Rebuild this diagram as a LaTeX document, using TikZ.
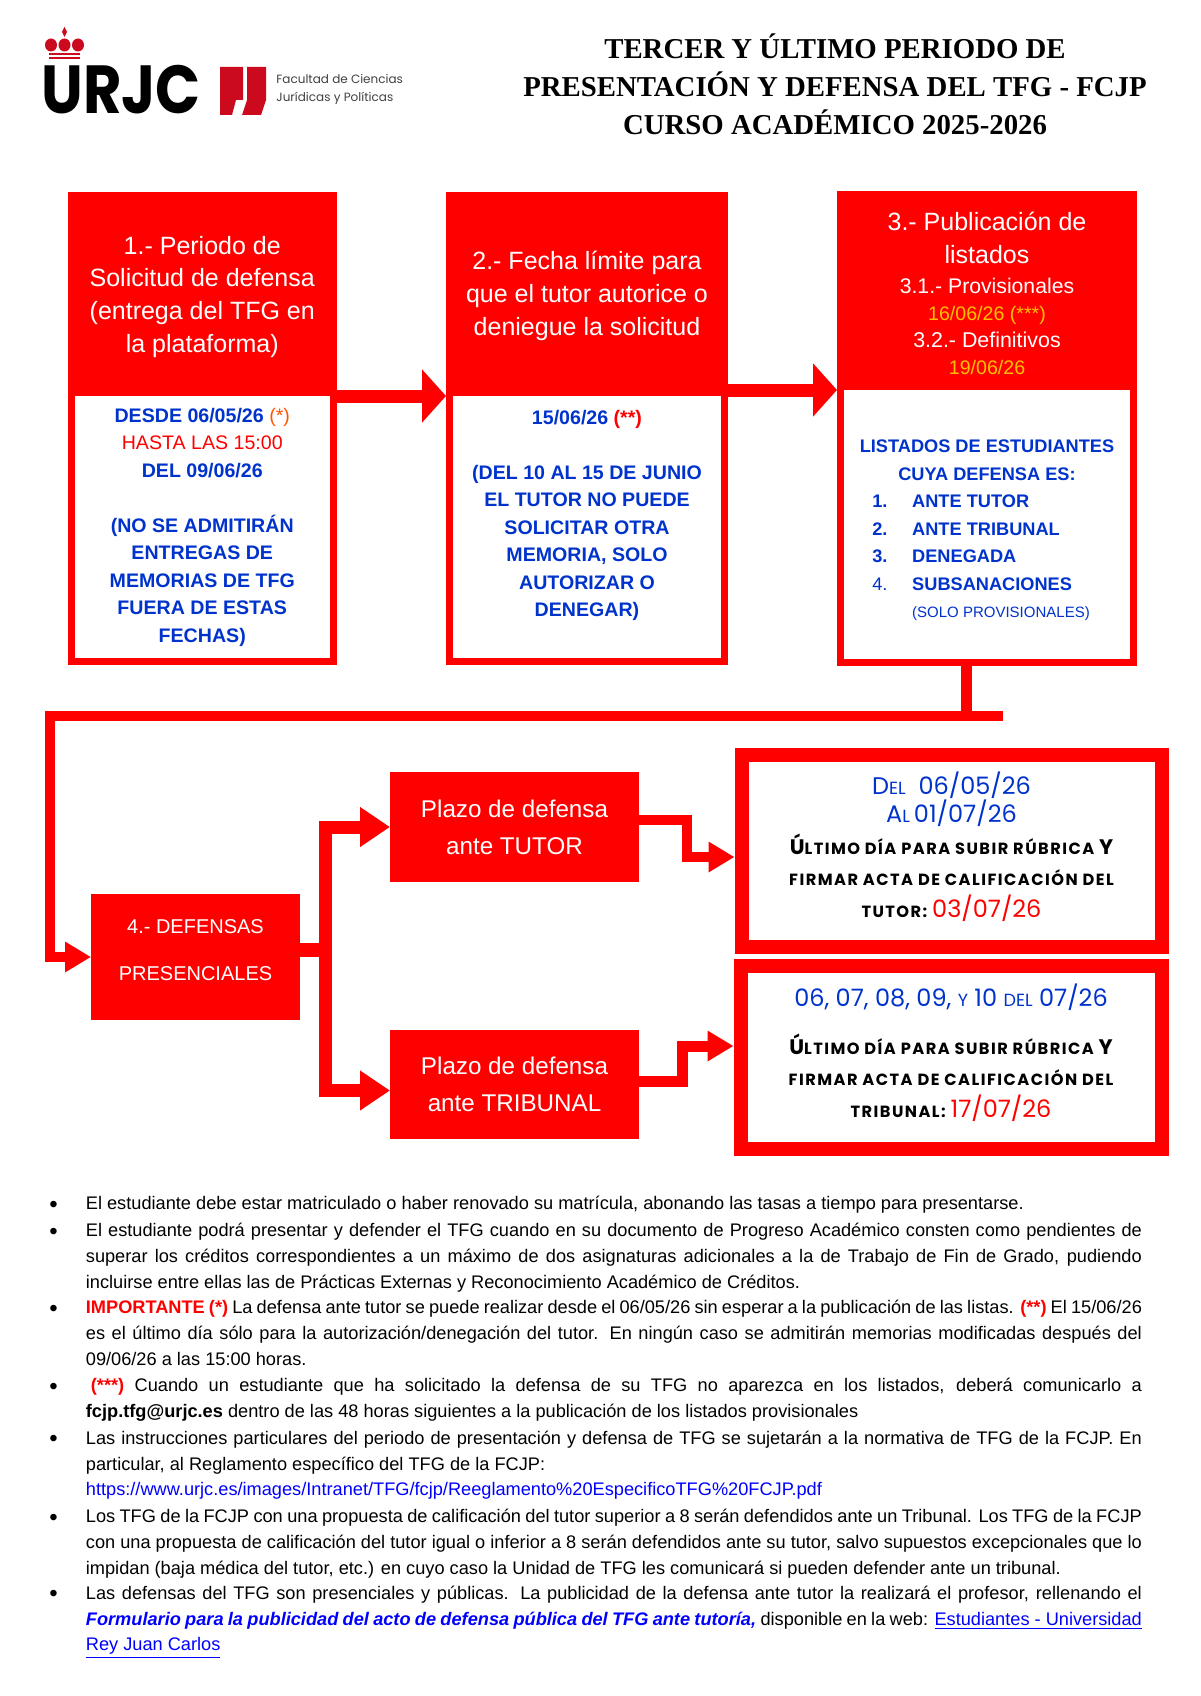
\documentclass[tikz,border=0pt]{standalone}
\usepackage{fontspec}
\setmainfont{Liberation Sans}
\newfontfamily\titlefont{Liberation Serif}
\newfontfamily\capsfont[LetterSpace=9]{Poppins}
\newfontfamily\datefont{Poppins}
\usetikzlibrary{positioning, arrows.meta}
\definecolor{plazored}{HTML}{FF0000}
\definecolor{listblue}{HTML}{0033CC}
\definecolor{dategold}{HTML}{FFC000}
\definecolor{logored}{HTML}{CC0A1E}
\definecolor{linkblue}{HTML}{0000FF}
\newcommand{\notebullet}{\leavevmode\llap{\raisebox{-1.2pt}{\fontsize{12}{12}\selectfont\textbullet}\hspace{14pt}}}
\newcommand{\capinit}[1]{{\fontsize{10.5}{15}\selectfont #1}}
\newcommand{\datesize}[1]{{\datefont\fontsize{12}{15}\mdseries\selectfont #1}}
\newcommand{\datesmall}[1]{{\datefont\fontsize{8.8}{15}\mdseries\selectfont #1}}
\newcommand{\toppad}[1]{\rule{0pt}{#1}}
\tikzset{
	stephead/.style = {rectangle, fill=plazored, text=white, align=center, anchor=north west, inner sep=0pt, outer sep=0pt,
						font=\fontsize{12.5}{16.4}\selectfont},
	stepbody/.style = {rectangle, draw=plazored, line width=3.5pt, fill=white, align=center, anchor=north west,
						inner sep=0pt, text=listblue, font=\fontsize{9.8}{13.75}\selectfont\bfseries},
	plazo/.style = {rectangle, fill=plazored, text=white, align=center, anchor=north west, inner sep=0pt, outer sep=0pt,
						font=\fontsize{12.1}{18.5}\selectfont},
	finalbox/.style = {rectangle, draw=plazored, line width=7pt, fill=white, align=center, inner sep=0pt,
						font=\capsfont\fontsize{8.1}{15.8}\selectfont\bfseries},
	note/.style = {anchor=north west, inner sep=0pt, text width=528pt, align=justify,
						font=\fontsize{9.1}{12.85}\selectfont},
	bigflow/.style = {draw=plazored, line width=6.5pt, -{Triangle[length=12pt,width=26pt]}},
	midflow/.style = {draw=plazored, line width=6.5pt, -{Triangle[length=15pt,width=19pt]}},
	smallflow/.style = {draw=plazored, line width=5pt, -{Triangle[length=13pt,width=14.5pt]}},
	plainflow/.style = {draw=plazored, line width=5pt}
}
\begin{document}
\begin{tikzpicture}[x=0.5pt,y=-0.5pt]
	\useasboundingbox (0,0) rectangle (1200,1696);
	% logo
	\fill [logored] (64.5,27) -- (67,32) -- (64.5,37) -- (62,32) -- cycle;
	\foreach \cx in {51,64.5,78}
		\fill [logored] (\cx,45) ellipse (6 and 6.5);
	\fill [logored] (49,53) rectangle (80,55);
	\fill [logored] (49,57) rectangle (80,59);
	\fill [logored] (220,67) -- (243,67) -- (243,100) -- (236,100) -- (232,115) -- (220,115) -- cycle;
	\fill [logored] (247,67) -- (266,67) -- (266,100) -- (261,115) -- (242,115) -- (247,100) -- cycle;
	\node (urjc) [anchor=west, inner sep=0pt, xscale=.87, transform shape, font=\datefont\fontsize{34}{34}\selectfont\bfseries] at (41,90) {URJC};
	\node (facultad) [anchor=west, inner sep=0pt, align=left, text=black!75,
		font=\datefont\fontsize{6}{9}\selectfont] at (276,89) {Facultad de Ciencias\\Jurídicas y Políticas};
	% title
	\node (titulo) [align=center, inner sep=0pt, font=\titlefont\fontsize{14.4}{18.9}\selectfont\bfseries] at (835,84)
		{TERCER Y ÚLTIMO PERIODO DE\\PRESENTACIÓN Y DEFENSA DEL TFG - FCJP\\CURSO ACADÉMICO 2025-2026};
	% steps
	\node (solbody) [stepbody, minimum width=130.75pt, minimum height=134.5pt] at (68,389)
		{DESDE 06/05/26 {\mdseries\color{orange!70!red}(*)}\\{\mdseries\color{plazored}HASTA LAS 15:00}\\DEL 09/06/26\\ \\(NO SE ADMITIRÁN\\ENTREGAS DE\\MEMORIAS DE TFG\\FUERA DE ESTAS\\FECHAS)};
	\node (sol) [stephead, minimum width=134.25pt, minimum height=102pt] at (68,192)
		{\toppad{11.8pt}1.- Periodo de\\Solicitud de defensa\\(entrega del TFG en\\la plataforma)};
	\node (limbody) [stepbody, minimum width=137.5pt, minimum height=134.5pt] at (446,389)
		{15/06/26 {\color{plazored}(**)}\\ \\(DEL 10 AL 15 DE JUNIO\\EL TUTOR NO PUEDE\\SOLICITAR OTRA\\MEMORIA, SOLO\\AUTORIZAR O\\DENEGAR)\\ };
	\node (lim) [stephead, minimum width=141pt, minimum height=102pt] at (446,192)
		{\toppad{11.3pt}2.- Fecha límite para\\que el tutor autorice o\\deniegue la solicitud};
	\node (pubbody) [stepbody, minimum width=146.5pt, minimum height=138pt, font=\fontsize{9.1}{13.75}\selectfont\bfseries] at (837,383)
		{\toppad{15pt}LISTADOS DE ESTUDIANTES\\CUYA DEFENSA ES:\\[3pt]
		\begin{tabular}{@{}c@{\hspace{12.4pt}}l@{\hspace{6pt}}}
			1. & ANTE TUTOR\\
			2. & ANTE TRIBUNAL\\
			3. & DENEGADA\\
			{\mdseries 4.} & SUBSANACIONES\\
			 & {\mdseries\fontsize{7.5}{13.75}\selectfont (SOLO PROVISIONALES)}
		\end{tabular}};
	\node (pub) [stephead, minimum width=150pt, minimum height=99.5pt] at (837,191)
		{\toppad{12.4pt}3.- Publicación de\\listados\\[-1.7pt]{\fontsize{10.6}{13.5}\selectfont 3.1.- Provisionales}\\[-2.8pt]{\fontsize{9.8}{13.5}\selectfont\color{dategold}16/06/26 (***)}\\[-2.8pt]{\fontsize{10.7}{13.5}\selectfont 3.2.- Definitivos}\\[-2.8pt]{\fontsize{9.8}{13.5}\selectfont\color{dategold}19/06/26}};
	\draw [bigflow] (sol.south east) -- (lim.south west);
	\draw [bigflow] (lim.east |- pub.south) -- (pub.south west);
	% defence
	\node (def) [plazo, minimum width=104.5pt, minimum height=63pt, text depth=7pt, font=\fontsize{10}{23.3}\selectfont] at (91,894)
		{4.- DEFENSAS\\PRESENCIALES};
	\node (tutor) [plazo, minimum width=124.5pt, minimum height=55pt] at (390,772)
		{Plazo de defensa\\ante TUTOR};
	\node (trib) [plazo, minimum width=124.5pt, minimum height=54.5pt] at (390,1030)
		{Plazo de defensa\\ante TRIBUNAL};
	\node (tutorfin) [finalbox, minimum width=210pt, minimum height=96pt, text depth=6pt] at (951.5,850.5)
		{{\color{listblue}\datesize{D}\datesmall{EL}\datesize{\ \ 06/05/26}}\\[-1.5pt]
		{\color{listblue}\datesize{A}\datesmall{L}\datesize{\,01/07/26}}\\
		\capinit{Ú}LTIMO DÍA PARA SUBIR RÚBRICA \capinit{Y}\\
		FIRMAR ACTA DE CALIFICACIÓN DEL\\
		TUTOR: {\color{plazored}\datesize{03/07/26}}};
	\node (tribfin) [finalbox, minimum width=210.5pt, minimum height=91.5pt, text depth=6.5pt] at (951,1057)
		{{\color{listblue}\datesize{06, 07, 08, 09, }\datesmall{Y}\datesize{ 10 }\datesmall{DEL}\datesize{ 07/26}}\\[8pt]
		\capinit{Ú}LTIMO DÍA PARA SUBIR RÚBRICA \capinit{Y}\\
		FIRMAR ACTA DE CALIFICACIÓN DEL\\
		TRIBUNAL: {\color{plazored}\datesize{17/07/26}}};
	% connectors
	\coordinate (turn) at (966.5,716);
	\coordinate (lineend) at (1003,716);
	\coordinate (corner) at (50,716);
	\coordinate (branch) at (325.5,950);
	\coordinate (tutorbend) at (687,820);
	\coordinate (tribbend) at (682,1081);
	\draw [plainflow, line width=5.5pt] (pubbody.south -| turn) -- (turn);
	\draw [smallflow] (lineend) -- (corner) |- (def.west);
	\draw [plainflow, line width=7pt] (def.east |- branch) -- (branch);
	\draw [midflow] (branch) |- (tutor.west);
	\draw [midflow] (branch) |- ([yshift=-3pt]trib.west);
	\draw [smallflow] ([yshift=3.5pt]tutor.east) -- (tutorbend) |- ([yshift=-3.25pt]tutorfin.west);
	\draw [smallflow, line width=5.5pt] ([yshift=1.75pt]trib.east) -- (tribbend) |- ([yshift=5.5pt]tribfin.west);
	% notes
	\node (nota1) [note] at (85.5,1196) {\notebullet El estudiante debe estar matriculado o haber renovado su matrícula, abonando las tasas a tiempo para presentarse.};
	\node (nota2) [note] at (85.5,1223) {\notebullet El estudiante podrá presentar y defender el TFG cuando en su documento de Progreso Académico consten como pendientes de\linebreak
		superar los créditos correspondientes a un máximo de dos asignaturas adicionales a la de Trabajo de Fin de Grado, pudiendo\linebreak
		incluirse entre ellas las de Prácticas Externas y Reconocimiento Académico de Créditos.};
	\node (nota3) [note] at (85.5,1300) {\notebullet {\bfseries\color{plazored}IMPORTANTE (*)} La defensa ante tutor se puede realizar desde el 06/05/26 sin esperar a la publicación de las listas. {\bfseries\color{plazored}(**)} El 15/06/26\linebreak
		es el último día sólo para la autorización/denegación del tutor. En ningún caso se admitirán memorias modificadas después del\linebreak
		09/06/26 a las 15:00 horas.};
	\node (nota4) [note] at (85.5,1378) {\notebullet\hspace{2.5pt}{\bfseries\color{plazored}(***)} Cuando un estudiante que ha solicitado la defensa de su TFG no aparezca en los listados, deberá comunicarlo a\linebreak
		{\bfseries fcjp.tfg@urjc.es} dentro de las 48 horas siguientes a la publicación de los listados provisionales};
	\node (nota5) [note] at (85.5,1430.5) {\notebullet Las instrucciones particulares del periodo de presentación y defensa de TFG se sujetarán a la normativa de TFG de la FCJP. En\linebreak
		particular, al Reglamento específico del TFG de la FCJP:\\
		{\color{linkblue}https://www.urjc.es/images/Intranet/TFG/fcjp/Reeglamento\%20EspecificoTFG\%20FCJP.pdf}};
	\node (nota6) [note] at (85.5,1509) {\notebullet Los TFG de la FCJP con una propuesta de calificación del tutor superior a 8 serán defendidos ante un Tribunal. Los TFG de la FCJP\linebreak
		con una propuesta de calificación del tutor igual o inferior a 8 serán defendidos ante su tutor, salvo supuestos excepcionales que lo\linebreak
		impidan (baja médica del tutor, etc.) en cuyo caso la Unidad de TFG les comunicará si pueden defender ante un tribunal.};
	\node (nota7) [note] at (85.5,1585.5) {\notebullet Las defensas del TFG son presenciales y públicas. La publicidad de la defensa ante tutor la realizará el profesor, rellenando el\linebreak
		{\bfseries\itshape\color{linkblue}Formulario para la publicidad del acto de defensa pública del TFG ante tutoría,} disponible en la web: {\color{linkblue}\underline{Estudiantes - Universidad}}\linebreak
		{\color{linkblue}\underline{Rey Juan Carlos}}};
\end{tikzpicture}
\end{document}
